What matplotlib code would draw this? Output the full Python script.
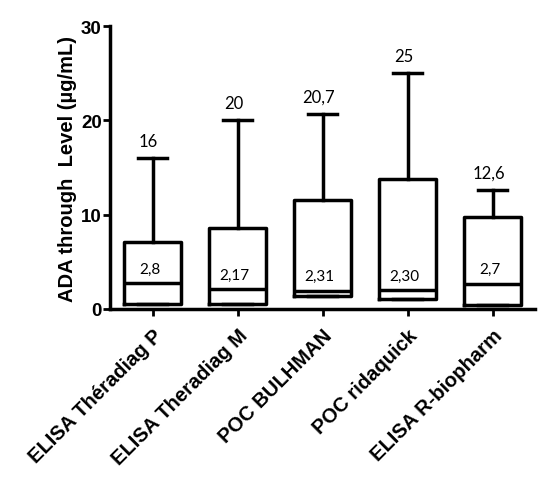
import matplotlib
matplotlib.use("Agg")
import matplotlib.pyplot as plt

categories = ["ELISA Théradiag P", "ELISA Theradiag M", "POC BULHMAN", "POC ridaquick", "ELISA R-biopharm"]
q1 = [0.5, 0.5, 1.4, 1.1, 0.45]
medians = [2.7, 2.1, 1.95, 2.0, 2.65]
q3 = [7.1, 8.6, 11.6, 13.8, 9.75]
whis_hi = [16.0, 20.0, 20.7, 25.0, 12.6]
whis_lo = [0.5, 0.5, 1.4, 1.1, 0.45]
max_labels = ["16", "20", "20,7", "25", "12,6"]
median_labels = ["2,8", "2,17", "2,31", "2,30", "2,7"]
yticks = [0, 10, 20, 30]

fig = plt.figure(figsize=(5.5, 4.85), dpi=100)
ax = fig.add_axes([0.2, 0.361, 0.773, 0.583])

stats = []
for i in range(len(categories)):
    stats.append(dict(med=medians[i], q1=q1[i], q3=q3[i], whislo=whis_lo[i],
                      whishi=whis_hi[i], fliers=[], label=categories[i]))

lw = 2.5
ax.bxp(stats, positions=range(len(categories)), widths=0.67, capwidths=0.34,
       showfliers=False,
       boxprops=dict(color="black", linewidth=lw),
       medianprops=dict(color="black", linewidth=lw),
       whiskerprops=dict(color="black", linewidth=lw),
       capprops=dict(color="black", linewidth=lw),
       manage_ticks=False)

for i in range(len(categories)):
    ax.annotate(max_labels[i], xy=(i, whis_hi[i]), xytext=(-3, 12.5), textcoords="offset points",
                ha="center", va="center", fontsize=12, family=["Lato", "DejaVu Sans"])
    ax.annotate(median_labels[i], xy=(i, medians[i]), xytext=(-2, 10.5), textcoords="offset points",
                ha="center", va="center", fontsize=11, family=["Lato", "DejaVu Sans"])

ax.set_xlim(-0.5, 4.5)
ax.set_ylim(0, 30)
ax.set_yticks(yticks)
ax.set_yticklabels([str(v) for v in yticks], fontsize=13.5, fontweight="bold", family="Liberation Sans")
ax.set_xticks(range(len(categories)))
ax.set_xticklabels(categories, rotation=45, ha="right", va="top", rotation_mode="anchor",
                   fontsize=14.5, fontweight="bold", family="Liberation Sans")
ax.tick_params(axis="x", length=5, width=2, pad=7)
ax.tick_params(axis="y", length=5, width=2, pad=1)
for s in ["top", "right"]:
    ax.spines[s].set_visible(False)
for s in ["left", "bottom"]:
    ax.spines[s].set_linewidth(2.5)
ax.set_ylabel("ADA through  Level (µg/mL)", fontsize=14.5, fontweight="bold",
              family="Liberation Sans", labelpad=3)

fig.savefig("out.png", dpi=100)
